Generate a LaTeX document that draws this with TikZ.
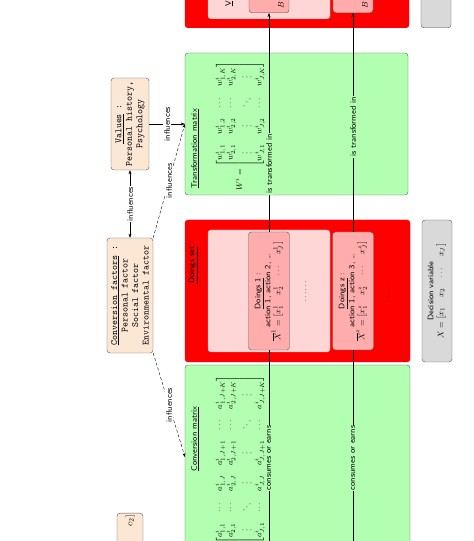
\documentclass[tikz,border=0pt]{standalone}
\usepackage{amsmath}
\usetikzlibrary{arrows.meta}

\definecolor{setred}{RGB}{255,0,0}
\definecolor{grouppink}{RGB}{255,214,214}
\definecolor{doingspink}{RGB}{255,172,172}
\definecolor{matgreen}{RGB}{178,255,178}
\definecolor{decgray}{RGB}{217,217,217}
\definecolor{factorpeach}{RGB}{252,230,212}

\tikzset{
  frame/.style={draw=black!65, rounded corners=3pt, line width=0.4pt},
  setbox/.style={draw=setred, fill=setred, rounded corners=3pt},
  groupbox/.style={frame, draw=black!25, fill=grouppink},
  doingsbox/.style={frame, fill=doingspink, align=center, inner sep=1pt,
                    minimum width=118pt, minimum height=41pt},
  matbox/.style={frame, fill=matgreen},
  decbox/.style={frame, fill=decgray, align=center},
  factorbox/.style={frame, fill=factorpeach, align=center, inner sep=2pt,
                    font=\ttfamily\fontsize{9.5}{10.5}\selectfont},
  onlabel/.style={fill=matgreen, inner sep=1pt},
  wlabel/.style={fill=white, inner sep=1pt}
}

\begin{document}
\begin{tikzpicture}[x=1pt, y=1pt, >={Stealth[length=4pt,width=3pt]},
    every node/.append style={font=\sffamily\fontsize{8}{10}\selectfont}]

  \useasboundingbox (0,0) rectangle (474,541);
  \clip (0,0) rectangle (474,541);

  \begin{scope}[rotate=90, transform shape]

    % doings set
    \node[setbox, minimum width=142pt, minimum height=225pt] (doingsset) at (250,-297.5) {};
    \node[anchor=east] (doingstitle) at (303,-193) {\underline{Doings set} :};
    \node[groupbox, minimum width=122pt, minimum height=122pt] (doingsgroup) at (250,-269) {};
    \node[doingsbox] (doings1) at (250,-269)
      {\underline{Doings 1} :\\ action 1, action 2, \dots\\
       $\overline{X}^1 = \begin{bmatrix} x^1_1 & x^1_2 & \cdots & x^1_J \end{bmatrix}$};
    \node (dotsa) at (250,-306) {$\cdots$\\[-6pt]$\cdots$};
    \node[doingsbox] (doingsz) at (250,-353)
      {\underline{Doings z} :\\ action 1, action 3, \dots\\
       $\overline{X}^z = \begin{bmatrix} x^z_1 & x^z_2 & \cdots & x^z_J \end{bmatrix}$};
    \node (dotsb) at (250,-389) {$\cdots$\\[-6pt]$\cdots$};

    % decision variable
    \node[decbox, minimum width=142pt, minimum height=30pt] (decision) at (250,-437)
      {Decision variable\\ $X = \begin{bmatrix} x_1 & x_2 & \cdots & x_J \end{bmatrix}$};

    % transformation matrix
    \node[matbox, minimum width=142pt, minimum height=223pt] (transformation) at (417,-296.5) {};
    \node[anchor=west] (transtitle) at (349,-195) {\underline{Transformation matrix}};
    \node[anchor=west] (wmatrix) at (347,-240)
      {$W^i = \begin{bmatrix}
         w^i_{1,1} & w^i_{1,2} & \cdots & w^i_{1,K}\\
         w^i_{2,1} & w^i_{2,2} & \cdots & w^i_{2,K}\\
         \vdots & \vdots & \ddots & \vdots\\
         w^i_{J,1} & w^i_{J,2} & \cdots & w^i_{J,K}
       \end{bmatrix}$};

    % conversion matrix
    \node[matbox, minimum width=236pt, minimum height=225pt] (conversion) at (58,-297.5) {};
    \node (convtitle) at (102,-195) {\underline{Conversion matrix}};
    \node[anchor=east] (amatrix) at (169,-240)
      {$A^i = \begin{bmatrix}
         a^i_{1,1} & \cdots & a^i_{1,J} & a^i_{1,J+1} & \cdots & a^i_{1,J+K}\\
         a^i_{2,1} & \cdots & a^i_{2,J} & a^i_{2,J+1} & \cdots & a^i_{2,J+K}\\
         \vdots & \ddots & \vdots & \vdots & \ddots & \vdots\\
         a^i_{J,1} & \cdots & a^i_{J,J} & a^i_{J,J+1} & \cdots & a^i_{J,J+K}
       \end{bmatrix}$};

    % factors
    \node[factorbox, minimum width=115pt, minimum height=46pt] (factors) at (245.5,-130)
      {\underline{Conversion factors} :\\ Personal factor\\ Social factor\\ Environmental factor};
    \node[factorbox, minimum width=92pt, minimum height=38pt] (values) at (417,-130)
      {\underline{Values} :\\ Personal history,\\ Psychology};
    \node[factorbox, anchor=east, text width=50pt, align=right, minimum height=26pt] (cvector) at (28,-130) {$c_2]$};

    % next set (cut)
    \node[setbox, anchor=west, minimum width=90pt, minimum height=224pt] (nextset) at (513,-297) {};
    \node[groupbox, anchor=west, minimum width=80pt, minimum height=122pt] (nextgroup) at (522,-269) {};
    \node[anchor=west] (nexttitle) at (531,-229) {\underline{V}};
    \node[doingsbox, anchor=west, minimum width=75pt, minimum height=40pt] (b1) at (528,-269) {};
    \node[anchor=west] (b1text) at (529,-281) {$B$};
    \node[doingsbox, anchor=west, minimum width=75pt, minimum height=40pt] (b2) at (528,-353) {};
    \node[anchor=west] (b2text) at (529,-365) {$B$};
    \node[decbox, anchor=west, minimum width=90pt, minimum height=30pt] (nextdecision) at (513,-436) {};

    % connectors
    \draw[->] (doings1.east) -- node[onlabel, pos=0.31] (trans1) {is transformed in} (b1.west);
    \draw[->] (doingsz.east) -- node[onlabel, pos=0.48] (trans2) {is transformed in} (b2.west);
    \coordinate (outa) at (-60,-269);
    \coordinate (outb) at (-60,-353);
    \draw (doings1.west) -- node[onlabel, pos=0.43] (cons1) {consumes or earns} (outa);
    \draw (doingsz.west) -- node[onlabel, pos=0.43] (cons2) {consumes or earns} (outb);

    \draw[<->] (factors.east) -- node[wlabel] (infl1) {influences} (values.west);
    \draw[->] (values.south) -- node[wlabel] (infl2) {influences} (transformation.north);
    \draw[->, densely dashed] (factors.south east) -- node[wlabel] (infl3) {influences} (transformation.north);
    \coordinate (convin) at (84,-185);
    \draw[->, densely dashed] (factors.south west) -- node[wlabel] (infl4) {influences} (convin);

  \end{scope}
\end{tikzpicture}
\end{document}
